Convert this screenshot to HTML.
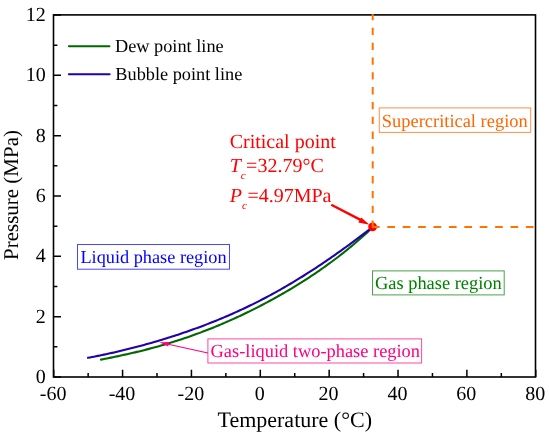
<!DOCTYPE html>
<html><head><meta charset="utf-8"><style>html,body{margin:0;padding:0;background:#fff;width:550px;height:434px;overflow:hidden}svg{display:block;text-rendering:geometricPrecision}</style></head><body>
<svg width="550" height="434" viewBox="0 0 550 434">
<rect width="550" height="434" fill="#fff"/>
<path d="M101.0,359.03 L103.0,358.63 L105.0,358.24 L107.0,357.83 L109.0,357.43 L111.0,357.02 L113.0,356.61 L115.0,356.20 L117.0,355.78 L119.0,355.35 L121.0,354.92 L123.0,354.49 L125.0,354.05 L127.0,353.60 L129.0,353.15 L131.0,352.70 L133.0,352.23 L135.0,351.76 L137.0,351.28 L139.0,350.80 L141.0,350.31 L143.0,349.81 L145.0,349.31 L147.0,348.79 L149.0,348.27 L151.0,347.75 L153.0,347.21 L155.0,346.67 L157.0,346.11 L159.0,345.55 L161.0,344.98 L163.0,344.41 L165.0,343.82 L167.0,343.23 L169.0,342.62 L171.0,342.01 L173.0,341.39 L175.0,340.76 L177.0,340.13 L179.0,339.48 L181.0,338.82 L183.0,338.16 L185.0,337.48 L187.0,336.80 L189.0,336.11 L191.0,335.41 L193.0,334.70 L195.0,333.98 L197.0,333.25 L199.0,332.51 L201.0,331.76 L203.0,331.00 L205.0,330.24 L207.0,329.46 L209.0,328.67 L211.0,327.88 L213.0,327.08 L215.0,326.26 L217.0,325.44 L219.0,324.61 L221.0,323.77 L223.0,322.92 L225.0,322.06 L227.0,321.19 L229.0,320.31 L231.0,319.42 L233.0,318.52 L235.0,317.61 L237.0,316.69 L239.0,315.77 L241.0,314.83 L243.0,313.89 L245.0,312.93 L247.0,311.96 L249.0,310.99 L251.0,310.01 L253.0,309.01 L255.0,308.01 L257.0,306.99 L259.0,305.97 L261.0,304.94 L263.0,303.89 L265.0,302.84 L267.0,301.77 L269.0,300.70 L271.0,299.62 L273.0,298.52 L275.0,297.42 L277.0,296.30 L279.0,295.17 L281.0,294.04 L283.0,292.89 L285.0,291.73 L287.0,290.56 L289.0,289.38 L291.0,288.18 L293.0,286.98 L295.0,285.76 L297.0,284.53 L299.0,283.29 L301.0,282.04 L303.0,280.78 L305.0,279.50 L307.0,278.21 L309.0,276.91 L311.0,275.59 L313.0,274.26 L315.0,272.91 L317.0,271.56 L319.0,270.18 L321.0,268.80 L323.0,267.40 L325.0,265.98 L327.0,264.55 L329.0,263.10 L331.0,261.63 L333.0,260.15 L335.0,258.65 L337.0,257.14 L339.0,255.61 L341.0,254.05 L343.0,252.49 L345.0,250.90 L347.0,249.29 L349.0,247.66 L351.0,246.02 L353.0,244.35 L355.0,242.66 L357.0,240.95 L359.0,239.22 L361.0,237.46 L363.0,235.68 L365.0,233.88 L367.0,232.05 L369.0,230.20 L371.0,228.32 L372.6,226.80" transform="translate(0,0.6)" fill="none" stroke="#006800" stroke-width="2.1" stroke-linecap="round" stroke-linejoin="round"/>
<path d="M88.0,357.39 L90.0,357.02 L92.0,356.64 L94.0,356.26 L96.0,355.86 L98.0,355.47 L100.0,355.06 L102.0,354.65 L104.0,354.23 L106.0,353.80 L108.0,353.37 L110.0,352.93 L112.0,352.48 L114.0,352.03 L116.0,351.57 L118.0,351.11 L120.0,350.63 L122.0,350.16 L124.0,349.67 L126.0,349.18 L128.0,348.68 L130.0,348.18 L132.0,347.67 L134.0,347.16 L136.0,346.64 L138.0,346.11 L140.0,345.58 L142.0,345.04 L144.0,344.49 L146.0,343.94 L148.0,343.38 L150.0,342.81 L152.0,342.24 L154.0,341.67 L156.0,341.08 L158.0,340.49 L160.0,339.90 L162.0,339.29 L164.0,338.68 L166.0,338.07 L168.0,337.45 L170.0,336.82 L172.0,336.18 L174.0,335.54 L176.0,334.89 L178.0,334.23 L180.0,333.56 L182.0,332.89 L184.0,332.21 L186.0,331.53 L188.0,330.83 L190.0,330.13 L192.0,329.42 L194.0,328.71 L196.0,327.98 L198.0,327.25 L200.0,326.51 L202.0,325.76 L204.0,325.01 L206.0,324.24 L208.0,323.47 L210.0,322.69 L212.0,321.90 L214.0,321.10 L216.0,320.30 L218.0,319.48 L220.0,318.66 L222.0,317.82 L224.0,316.98 L226.0,316.13 L228.0,315.27 L230.0,314.40 L232.0,313.52 L234.0,312.63 L236.0,311.73 L238.0,310.82 L240.0,309.90 L242.0,308.98 L244.0,308.04 L246.0,307.09 L248.0,306.13 L250.0,305.17 L252.0,304.19 L254.0,303.20 L256.0,302.20 L258.0,301.19 L260.0,300.17 L262.0,299.14 L264.0,298.11 L266.0,297.05 L268.0,295.99 L270.0,294.92 L272.0,293.84 L274.0,292.75 L276.0,291.65 L278.0,290.53 L280.0,289.41 L282.0,288.27 L284.0,287.13 L286.0,285.97 L288.0,284.80 L290.0,283.63 L292.0,282.44 L294.0,281.24 L296.0,280.03 L298.0,278.81 L300.0,277.58 L302.0,276.34 L304.0,275.09 L306.0,273.82 L308.0,272.55 L310.0,271.27 L312.0,269.98 L314.0,268.68 L316.0,267.36 L318.0,266.04 L320.0,264.71 L322.0,263.37 L324.0,262.02 L326.0,260.66 L328.0,259.29 L330.0,257.91 L332.0,256.53 L334.0,255.13 L336.0,253.73 L338.0,252.32 L340.0,250.90 L342.0,249.47 L344.0,248.03 L346.0,246.59 L348.0,245.14 L350.0,243.68 L352.0,242.21 L354.0,240.74 L356.0,239.27 L358.0,237.78 L360.0,236.29 L362.0,234.80 L364.0,233.30 L366.0,231.79 L368.0,230.29 L370.0,228.77 L372.0,227.26 L372.6,226.80" transform="translate(0,0.4)" fill="none" stroke="#2200AA" stroke-width="2.1" stroke-linecap="round" stroke-linejoin="round"/>
<circle cx="372.6" cy="226.8" r="4.4" fill="#FF0000"/>
<rect x="53.5" y="14.9" width="482.0" height="362.1" fill="none" stroke="#000" stroke-width="1.6"/>
<path d="M372.7,14 V226.8" stroke="#FF7400" stroke-width="2" stroke-dasharray="7.3 7.53" stroke-dashoffset="1.03" fill="none"/>
<path d="M371.9,226.9 H535" stroke="#FF7400" stroke-width="2" stroke-dasharray="7.7 7.7" fill="none"/>
<path d="M53.72,377.0 V369.70 M88.15,377.0 V373.10 M122.58,377.0 V369.70 M157.01,377.0 V373.10 M191.44,377.0 V369.70 M225.87,377.0 V373.10 M260.30,377.0 V369.70 M294.73,377.0 V373.10 M329.16,377.0 V369.70 M363.59,377.0 V373.10 M398.02,377.0 V369.70 M432.45,377.0 V373.10 M466.88,377.0 V369.70 M501.31,377.0 V373.10 M535.74,377.0 V369.70 M53.5,377.00 H61.00 M53.5,346.83 H57.40 M53.5,316.66 H61.00 M53.5,286.49 H57.40 M53.5,256.32 H61.00 M53.5,226.15 H57.40 M53.5,195.98 H61.00 M53.5,165.81 H57.40 M53.5,135.64 H61.00 M53.5,105.47 H57.40 M53.5,75.30 H61.00 M53.5,45.13 H57.40 M53.5,14.96 H61.00" stroke="#000" stroke-width="1.5" fill="none"/>
<g font-family="Liberation Serif, Times New Roman, serif" font-size="20" fill="#000">
<text x="53.12" y="400.0" text-anchor="middle">-60</text>
<text x="121.98" y="400.0" text-anchor="middle">-40</text>
<text x="190.84" y="400.0" text-anchor="middle">-20</text>
<text x="259.70" y="400.0" text-anchor="middle">0</text>
<text x="328.56" y="400.0" text-anchor="middle">20</text>
<text x="397.42" y="400.0" text-anchor="middle">40</text>
<text x="466.28" y="400.0" text-anchor="middle">60</text>
<text x="535.14" y="400.0" text-anchor="middle">80</text>
<text x="45.8" y="383.00" text-anchor="end">0</text>
<text x="45.8" y="322.66" text-anchor="end">2</text>
<text x="45.8" y="262.32" text-anchor="end">4</text>
<text x="45.8" y="201.98" text-anchor="end">6</text>
<text x="45.8" y="141.64" text-anchor="end">8</text>
<text x="45.8" y="81.30" text-anchor="end">10</text>
<text x="45.8" y="20.96" text-anchor="end">12</text>
</g>
<text x="217.5" y="426.5" font-family="Liberation Serif, serif" font-size="22">Temperature (°C)</text>
<text transform="translate(17.5,195) rotate(-90)" text-anchor="middle" font-family="Liberation Serif, serif" font-size="21">Pressure (MPa)</text>
<line x1="68.9" y1="46.3" x2="109.4" y2="46.3" stroke="#006800" stroke-width="2.1" stroke-linecap="round"/>
<line x1="68.9" y1="74.3" x2="109.6" y2="74.3" stroke="#2200AA" stroke-width="2.1" stroke-linecap="round"/>
<g font-family="Liberation Serif, serif" font-size="18.3" fill="#000">
<text x="115" y="52.1">Dew point line</text>
<text x="115.3" y="79.7">Bubble point line</text>
</g>
<g font-family="Liberation Serif, serif" font-size="20" fill="#FF0000">
<text x="229.7" y="148">Critical point</text>
<text x="229.7" y="171.8"><tspan font-style="italic">T</tspan><tspan font-style="italic" font-size="11" dy="6.7">c</tspan><tspan dx="0.4" dy="-6.7">=32.79°C</tspan></text>
<text x="229.7" y="201.8"><tspan font-style="italic">P</tspan><tspan font-style="italic" font-size="11" dy="6.7">c</tspan><tspan dx="0.6" dy="-6.7">=4.97MPa</tspan></text>
</g>
<line x1="331.3" y1="204.8" x2="361" y2="220.1" stroke="#FF0000" stroke-width="2.4"/>
<polygon points="369.5,224.7 361.2,217.4 358.3,222.5" fill="#FF0000"/>
<rect x="77.5" y="244.5" width="152.0" height="24.69999999999999" fill="#fff" stroke="#0000FF" stroke-width="1" stroke-opacity="0.72"/>
<text x="80.4" y="262.6" font-family="Liberation Serif, serif" font-size="18.3" fill="#0000FF">Liquid phase region</text>
<rect x="372.5" y="270.9" width="131.7" height="24.0" fill="#fff" stroke="#008000" stroke-width="1" stroke-opacity="0.72"/>
<text x="375.0" y="288.7" font-family="Liberation Serif, serif" font-size="18.4" fill="#008000">Gas phase region</text>
<rect x="379.3" y="107.9" width="151.40000000000003" height="24.5" fill="#fff" stroke="#FF6600" stroke-width="1" stroke-opacity="0.72"/>
<text x="381.8" y="126.5" font-family="Liberation Serif, serif" font-size="18.45" fill="#FF6600">Supercritical region</text>
<rect x="207.9" y="338.9" width="213.70000000000002" height="24.100000000000023" fill="#fff" stroke="#FF0080" stroke-width="1" stroke-opacity="0.72"/>
<text x="210.6" y="356.7" font-family="Liberation Serif, serif" font-size="18.4" fill="#FF0080">Gas-liquid two-phase region</text>
<line x1="207.9" y1="353" x2="166" y2="343.8" stroke="#FF0080" stroke-width="1.1"/>
<polygon points="159.4,342.3 169.2,342.0 168.2,346.6" fill="#FF0080"/>
</svg>
</body></html>
